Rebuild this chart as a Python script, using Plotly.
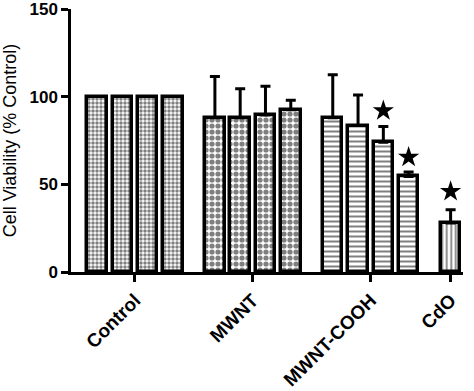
import plotly.graph_objects as go

groups = ["Control", "MWNT", "MWNT-COOH", "CdO"]
control_vals = [100, 100, 100, 100]
control_err = [0, 0, 0, 0]
mwnt_vals = [88, 88, 89.5, 92.5]
mwnt_err = [23.5, 16.5, 16.5, 5.5]
cooh_vals = [88, 83.5, 74, 54.5]
cooh_err = [24.5, 17.5, 9, 2.5]
cdo_vals = [28]
cdo_err = [7.5]
star_vals = [92, 65.5, 46]  # markers over COOH bars 3,4 and CdO

# slot positions
unit_gap = 1.66
ctrl_x = [0, 1, 2, 3]
mwnt_x = [3 + unit_gap + i for i in range(4)]
cooh_x = [mwnt_x[-1] + unit_gap + i for i in range(4)]
cdo_x = [cooh_x[-1] + unit_gap]
star_x = [cooh_x[2], cooh_x[3], cdo_x[0]]
centers = [sum(ctrl_x) / 4, sum(mwnt_x) / 4, sum(cooh_x) / 4, cdo_x[0]]

fig = go.Figure()

def add_group(x, y, err, shape, size, solidity, show_err=True):
    fig.add_trace(go.Bar(
        x=x, y=y, width=0.77,
        marker=dict(color="white",
                    line=dict(color="black", width=3.5),
                    pattern=dict(shape=shape, size=size, solidity=solidity,
                                 fgcolor="black", bgcolor="white", fillmode="overlay")),
        error_y=dict(type="data", array=err, arrayminus=[0] * len(err), symmetric=False,
                     visible=show_err, color="black", thickness=3, width=5),
        showlegend=False,
    ))

add_group(ctrl_x, control_vals, control_err, ".", 4, 0.6, show_err=False)
add_group(mwnt_x, mwnt_vals, mwnt_err, ".", 6, 0.6)
add_group(cooh_x, cooh_vals, cooh_err, "-", 5, 0.4)
add_group(cdo_x, cdo_vals, cdo_err, "|", 4.5, 0.4)

fig.add_trace(go.Scatter(
    x=star_x, y=star_vals, mode="markers",
    marker=dict(symbol="star", size=16, color="black"),
    showlegend=False, hoverinfo="skip",
))

fig.update_layout(
    width=474, height=391,
    margin=dict(l=71, r=11, t=9, b=119),
    plot_bgcolor="white", paper_bgcolor="white",
    font=dict(family="Liberation Sans, Arial, sans-serif", color="black"),
    bargap=0,
)
fig.update_xaxes(
    range=[-1.03, 14.47], automargin=False,
    tickvals=centers, ticktext=groups, tickangle=-45,
    tickfont=dict(size=19, weight="bold"),
    ticks="outside", ticklen=7, tickwidth=2.5, tickcolor="black",
    showline=True, linecolor="black", linewidth=2.5,
    showgrid=False, zeroline=False,
)
fig.update_yaxes(
    range=[0, 150], tickvals=[0, 50, 100, 150], automargin=False,
    ticklabeloverflow="allow",
    tickfont=dict(size=17, weight="bold"),
    ticks="outside", ticklen=7, tickwidth=2.5, tickcolor="black",
    showline=True, linecolor="black", linewidth=2.5,
    showgrid=False, zeroline=False,
    title=dict(text="Cell Viability (% Control)", font=dict(size=18), standoff=10),
)

fig.write_html("out.html", config={"displayModeBar": False},
               post_script="document.body.style.margin='0';")
